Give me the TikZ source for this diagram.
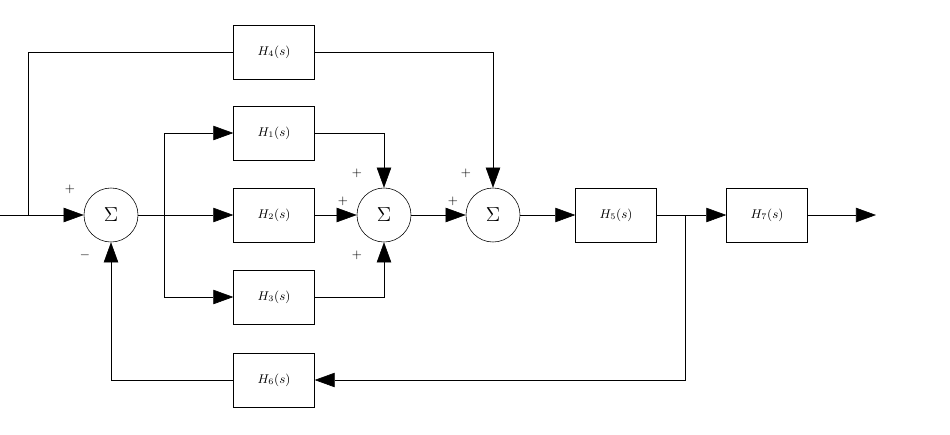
\documentclass[tikz,border=0pt]{standalone}
\usetikzlibrary{arrows.meta}
\begin{document}
\begin{tikzpicture}[x=0.025cm,y=-0.025cm,
    block/.style={draw, minimum width=2.02cm, minimum height=1.35cm, inner sep=0pt, font=\small},
    sum/.style={draw, circle, minimum size=1.35cm, inner sep=0pt, font=\Large},
    sig/.style={font=\small},
    flow/.style={-{Triangle[length=0.5cm,width=0.36cm]}}]
    \useasboundingbox (0,0) rectangle (950,435);

    % summing junctions
    \node[sum] (S1) at (111,215) {$\Sigma$};
    \node[sum] (S2) at (384,215) {$\Sigma$};
    \node[sum] (S3) at (493,215) {$\Sigma$};

    % blocks
    \node[block] (H4) at (274,52)  {$H_4(s)$};
    \node[block] (H1) at (274,133) {$H_1(s)$};
    \node[block] (H2) at (274,215) {$H_2(s)$};
    \node[block] (H3) at (274,297) {$H_3(s)$};
    \node[block] (H6) at (274,380) {$H_6(s)$};
    \node[block] (H5) at (616,215) {$H_5(s)$};
    \node[block] (H7) at (767,215) {$H_7(s)$};

    % branch points and free ends
    \coordinate (in) at (0,215);
    \coordinate (b0) at (28,215);
    \coordinate (b1) at (164,215);
    \coordinate (b2) at (685,215);
    \coordinate (out) at (876,215);

    % forward path
    \draw[flow] (in) -- (S1);
    \draw[flow] (S1) -- (H2);
    \draw[flow] (b1) |- (H1);
    \draw[flow] (b1) |- (H3);
    \draw[flow] (H2) -- (S2);
    \draw[flow] (H1) -| (S2);
    \draw[flow] (H3) -| (S2);
    \draw[flow] (S2) -- (S3);
    \draw (b0) |- (H4);
    \draw[flow] (H4) -| (S3);
    \draw[flow] (S3) -- (H5);
    \draw[flow] (H5) -- (H7);
    \draw[flow] (H7) -- (out);

    % feedback
    \draw[flow] (b2) |- (H6);
    \draw[flow] (H6) -| (S1);

    % signs
    \node[sig] at (70,189) {$+$};
    \node[sig] at (85,255) {$-$};
    \node[sig] at (357,173) {$+$};
    \node[sig] at (343,201) {$+$};
    \node[sig] at (357,255) {$+$};
    \node[sig] at (466,173) {$+$};
    \node[sig] at (453,201) {$+$};
\end{tikzpicture}
\end{document}
